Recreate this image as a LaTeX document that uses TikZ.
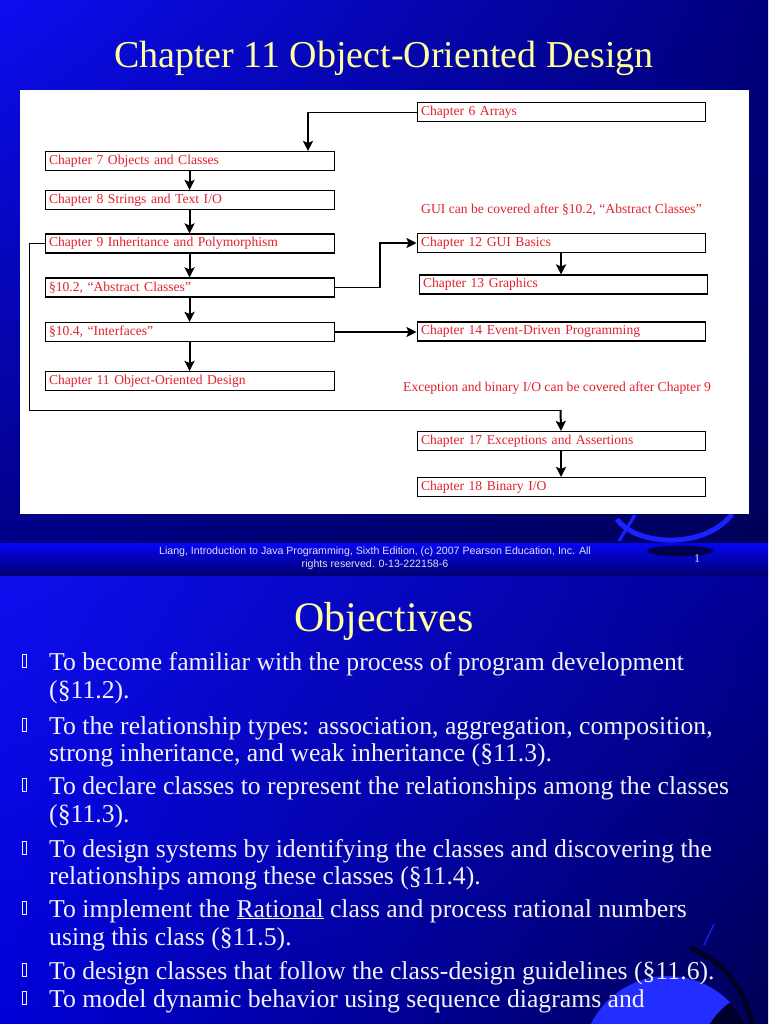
\documentclass[tikz,border=0pt]{standalone}
\usepackage{fontspec}
\setmainfont{Liberation Serif}
\newfontfamily\arialf{Liberation Sans}
\usetikzlibrary{arrows.meta,shadings}
\definecolor{ttl}{RGB}{255,255,160}
\definecolor{boxred}{RGB}{228,32,44}
\definecolor{ftc}{RGB}{225,225,240}
\definecolor{bultxt}{RGB}{242,242,250}
\definecolor{sAul}{RGB}{12,12,240}
\definecolor{sAur}{RGB}{0,0,125}
\definecolor{sAll}{RGB}{0,0,135}
\definecolor{sAlr}{RGB}{0,0,90}
\definecolor{sBul}{RGB}{14,14,238}
\definecolor{sBur}{RGB}{0,0,150}
\definecolor{sBll}{RGB}{0,0,215}
\definecolor{sBlr}{RGB}{0,0,85}
\definecolor{ftop}{RGB}{5,5,245}
\definecolor{fbot}{RGB}{0,0,115}
\definecolor{swirl}{RGB}{25,35,255}
\definecolor{globeA}{RGB}{35,45,255}
\definecolor{globeB}{RGB}{0,0,45}
\definecolor{ringc}{RGB}{0,0,35}
\begin{document}
\begin{tikzpicture}[x=1pt,y=-1pt,
  chbox/.style={draw=black, line width=1.1pt, fill=white, minimum height=19pt,
    inner xsep=4pt, inner ysep=0pt, text=boxred, anchor=west, align=left,
    font=\fontsize{13.6}{14}\selectfont},
  lbox/.style={chbox, text width=281pt},
  rbox/.style={chbox, text width=280pt},
  note/.style={text=boxred, inner sep=0pt, anchor=west, font=\fontsize{13.6}{14}\selectfont},
  arr/.style={line width=2pt, -{Stealth[length=10pt,width=10pt,inset=2pt]}},
  thinline/.style={line width=0.9pt},
  bul/.style={text=bultxt, inner sep=0pt, anchor=base west, font=\fontsize{25.7}{28}\selectfont},
  bulmark/.style={draw=bultxt, line width=0.7pt},
  foot/.style={text=ftc, inner sep=0pt, anchor=base, font=\arialf\fontsize{10.6}{12}\selectfont}
]
\useasboundingbox (0,0) rectangle (768,1024);
% ---------- backgrounds ----------
\shade[upper left=sAul, upper right=sAur, lower left=sAll, lower right=sAlr] (0,0) rectangle (768,543);
\shade[upper left=sBul, upper right=sBur, lower left=sBll, lower right=sBlr] (0,575) rectangle (768,1024);
% swirl below the panel
\draw[line width=5pt, swirl] (617,519) .. controls (635,546) and (705,550) .. (732,514);
\draw[line width=3pt, swirl] (619,541) -- (635,515);
% footer band
\shade[top color=ftop, bottom color=fbot] (0,543) rectangle (768,575);
\fill[globeB, opacity=0.8] (680,551) ellipse (33 and 5.5);
% globe on the second slide
\begin{scope}
\clip (0,575) rectangle (768,1024);
\fill[globeA] (668,1062) circle (86);
\begin{scope}
\clip (668,1062) circle (86);
\fill[globeB] (770,1060) circle (70);
\end{scope}
\draw[line width=5pt, ringc] (690,948) .. controls (725,962) and (745,990) .. (752,1024);
\draw[line width=1.2pt, swirl] (704,945) -- (714,924);
\end{scope}
% white panel
\fill[white] (20,90) rectangle (749,514);
% ---------- title ----------
\node[text=ttl, inner sep=0pt, anchor=base, font=\fontsize{38}{40}\selectfont] (title) at (384,68) {Chapter 11 Object-Oriented Design};
% ---------- boxes ----------
\node[rbox] (ch6) at (416.5,112) {Chapter 6 Arrays};
\node[lbox] (ch7) at (44.5,161) {Chapter 7 Objects and Classes};
\node[lbox] (ch8) at (44.5,200) {Chapter 8 Strings and Text I/O};
\node[lbox] (ch9) at (44.5,243.5) {Chapter 9 Inheritance and Polymorphism};
\node[lbox] (s102) at (44.5,287.5) {§10.2, “Abstract Classes”};
\node[lbox] (s104) at (44.5,332) {§10.4, “Interfaces”};
\node[lbox] (ch11) at (44.5,381) {Chapter 11 Object-Oriented Design};
\node[rbox] (ch12) at (416.5,243) {Chapter 12 GUI Basics};
\node[rbox] (ch13) at (418.5,284.5) {Chapter 13 Graphics};
\node[rbox] (ch14) at (416.5,331.5) {Chapter 14 Event-Driven Programming};
\node[rbox] (ch17) at (416.5,441) {Chapter 17 Exceptions and Assertions};
\node[rbox] (ch18) at (416.5,487) {Chapter 18 Binary I/O};
\node[note] (gui) at (421,210) {GUI can be covered after §10.2, “Abstract Classes”};
\node[note] (exc) at (403,388) {Exception and binary I/O can be covered after Chapter 9};
% ---------- connectors ----------
\coordinate (c6) at (308,112);
\draw[thinline] (ch6.west) -- (c6);
\draw[arr] (c6) -- (c6 |- ch7.north);
\draw[arr] (ch7.south) -- (ch8.north);
\draw[arr] (ch8.south) -- (ch9.north);
\draw[arr] (ch9.south) -- (s102.north);
\draw[arr] (s102.south) -- (s104.north);
\draw[arr] (s104.south) -- (ch11.north);
\coordinate (gx) at (380,287.5);
\draw[line width=1.3pt] (s102.east) -- (gx);
\draw[arr] (gx) |- (ch12.west);
\draw[arr] (ch12.south) -- (ch12.south |- ch13.north);
\draw[arr] (s104.east) -- (s104.east -| ch14.west);
\coordinate (lp1) at (29,410);
\coordinate (lp2) at (560.5,410);
\draw[thinline] (ch9.west) -| (lp1) -- (lp2);
\draw[arr] (lp2) -- (ch17.north);
\draw[arr] (ch17.south) -- (ch18.north);
% ---------- footer ----------
\node[foot] (f1) at (375,554.5) {Liang, Introduction to Java Programming, Sixth Edition, (c) 2007 Pearson Education, Inc. All};
\node[foot] (f2) at (375,567.5) {rights reserved. 0-13-222158-6};
\node[text=ftc, inner sep=0pt, anchor=base, font=\fontsize{12}{14}\selectfont] (pg) at (697,562) {1};
% ---------- second slide ----------
\node[text=ttl, inner sep=0pt, anchor=base, font=\fontsize{42}{44}\selectfont] (obj) at (384,631) {Objectives};
\foreach \yy in {670,734,794,857,917,979,1007}{
  \draw[bulmark] (22.5,\yy-16) rectangle (26,\yy-3);
}
\node[bul] (b1a) at (49,670) {To become familiar with the process of program development};
\node[bul] (b1b) at (49,698) {(§11.2).};
\node[bul] (b2a) at (49,734) {To the relationship types: association, aggregation, composition,};
\node[bul] (b2b) at (49,761) {strong inheritance, and weak inheritance (§11.3).};
\node[bul] (b3a) at (49,794) {To declare classes to represent the relationships among the classes};
\node[bul] (b3b) at (49,822) {(§11.3).};
\node[bul] (b4a) at (49,857) {To design systems by identifying the classes and discovering the};
\node[bul] (b4b) at (49,884) {relationships among these classes (§11.4).};
\node[bul] (b5a) at (49,917) {To implement the \underline{Rational} class and process rational numbers};
\node[bul] (b5b) at (49,945) {using this class (§11.5).};
\node[bul] (b6) at (49,979) {To design classes that follow the class-design guidelines (§11.6).};
\node[bul] (b7) at (49,1007) {To model dynamic behavior using sequence diagrams and};
\end{tikzpicture}
\end{document}
